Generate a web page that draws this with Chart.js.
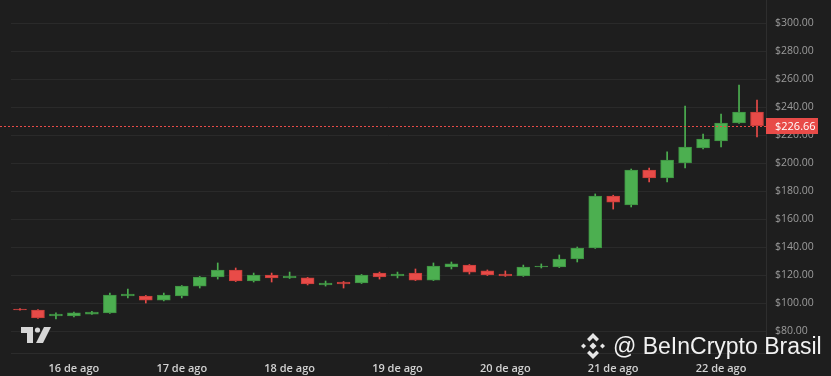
<!DOCTYPE html>
<html>
<head>
    <title>Candles 4h</title>
    <script src="https://cdnjs.cloudflare.com/ajax/libs/Chart.js/4.4.0/chart.umd.min.js"></script>
    <style>
        body {
            margin: 0;
            background: #1e1e1e;
        }
        .chart-container {
            width: 831px;
            height: 376px;
            position: relative;
            overflow: hidden;
        }
        .tv-logo {
            position: absolute;
            left: 21px;
            top: 327px;
        }
        .watermark {
            position: absolute;
            left: 580px;
            top: 332px;
            display: flex;
            align-items: center;
            font-family: "Liberation Sans", Arial, sans-serif;
            font-size: 23px;
            color: #f2f2f2;
            white-space: nowrap;
        }
        .watermark svg {
            margin-right: 7px;
        }
    </style>
</head>
<body>
    <div class="chart-container">
        <canvas id="myChart"></canvas>
        <svg class="tv-logo" width="30" height="17" viewBox="0 0 30 17">
            <path d="M0 0 H12 V16 H6 V6 H0 Z" fill="#d6d6d6"/>
            <circle cx="16.5" cy="3" r="2.6" fill="#d6d6d6"/>
            <path d="M23 0 H30 L22 16 H15 Z" fill="#d6d6d6"/>
        </svg>
        <div class="watermark">
            <svg width="26" height="28" viewBox="0 0 26 28">
                <g fill="#e6e6e6">
                    <path d="M13 1 L19 7 L16.5 9.5 L13 6 L9.5 9.5 L7 7 Z"/>
                    <path d="M13 27 L19 21 L16.5 18.5 L13 22 L9.5 18.5 L7 21 Z"/>
                    <path d="M13 10.5 L16.5 14 L13 17.5 L9.5 14 Z"/>
                    <path d="M3.5 11.5 L6 14 L3.5 16.5 L1 14 Z"/>
                    <path d="M22.5 11.5 L25 14 L22.5 16.5 L20 14 Z"/>
                </g>
            </svg>
            <span>@ BeInCrypto Brasil</span>
        </div>
    </div>

    <script>
        // 4h candles, 15 ago 12:00 .. 22 ago 08:00
        const times = [
            '15/08 12h', '15/08 16h', '15/08 20h',
            '16/08 00h', '16/08 04h', '16/08 08h', '16/08 12h', '16/08 16h', '16/08 20h',
            '17/08 00h', '17/08 04h', '17/08 08h', '17/08 12h', '17/08 16h', '17/08 20h',
            '18/08 00h', '18/08 04h', '18/08 08h', '18/08 12h', '18/08 16h', '18/08 20h',
            '19/08 00h', '19/08 04h', '19/08 08h', '19/08 12h', '19/08 16h', '19/08 20h',
            '20/08 00h', '20/08 04h', '20/08 08h', '20/08 12h', '20/08 16h', '20/08 20h',
            '21/08 00h', '21/08 04h', '21/08 08h', '21/08 12h', '21/08 16h', '21/08 20h',
            '22/08 00h', '22/08 04h', '22/08 08h'
        ];
        const dayLabels = {
            '16/08 00h': '16 de ago', '17/08 00h': '17 de ago', '18/08 00h': '18 de ago',
            '19/08 00h': '19 de ago', '20/08 00h': '20 de ago', '21/08 00h': '21 de ago',
            '22/08 00h': '22 de ago'
        };

        const opens  = [95.7, 95.0, 90.7, 90.7, 92.1, 92.9, 105.0, 105.0, 102.1, 105.0, 112.1, 118.6,
                        123.6, 115.7, 120.0, 117.9, 117.9, 112.9, 115.0, 114.3, 121.4, 119.3, 121.4, 116.4,
                        125.7, 127.1, 122.9, 120.7, 119.3, 125.7, 125.7, 131.4, 139.3, 176.4, 170.0, 195.0,
                        189.3, 200.0, 210.7, 215.7, 228.6, 236.4];
        const highs  = [96.0, 95.3, 92.9, 93.6, 94.0, 107.1, 110.0, 105.4, 107.1, 112.5, 119.0, 128.6,
                        125.0, 121.4, 121.4, 122.1, 118.3, 115.7, 115.4, 120.4, 122.1, 122.1, 124.3, 128.6,
                        129.3, 127.5, 123.6, 122.9, 127.1, 127.9, 134.3, 140.0, 177.9, 177.0, 195.7, 196.4,
                        207.9, 240.7, 220.7, 235.0, 255.7, 245.0];
        const lows   = [94.8, 89.0, 88.6, 90.0, 91.8, 92.5, 103.6, 100.0, 101.5, 103.6, 110.7, 117.1,
                        115.3, 115.0, 115.0, 117.5, 112.9, 112.1, 110.7, 113.9, 117.1, 117.9, 116.0, 116.0,
                        124.3, 120.7, 119.6, 119.0, 119.0, 125.0, 125.3, 129.3, 139.0, 167.1, 168.6, 186.4,
                        186.4, 196.4, 210.0, 211.4, 228.2, 218.6];
        const closes = [95.0, 89.3, 92.1, 92.9, 93.6, 105.7, 106.4, 102.1, 105.7, 112.1, 118.6, 123.6,
                        115.7, 120.0, 117.9, 119.3, 113.6, 114.3, 113.6, 120.0, 118.6, 120.7, 116.4, 126.4,
                        127.9, 122.1, 120.0, 119.3, 125.7, 126.4, 131.4, 139.3, 176.4, 172.1, 195.0, 189.3,
                        202.1, 211.4, 217.1, 228.6, 236.4, 226.66];

        const yTicks = [80, 100, 120, 140, 160, 180, 200, 220, 240, 260, 280, 300];
        const lastPrice = 226.66;

        const GREEN = '#4caf50';
        const GREEN_EDGE = '#3e9142';
        const RED = '#e84b48';
        const RED_EDGE = '#c63c39';

        const isUp = closes.map((c, i) => c >= opens[i]);
        const fillColors = isUp.map(u => u ? GREEN : RED);
        const edgeColors = isUp.map(u => u ? GREEN_EDGE : RED_EDGE);

        // dashed last price line + price tag on the axis
        const lastPricePlugin = {
            id: 'lastPrice',
            afterDraw(chart) {
                const ctx = chart.ctx;
                const y = Math.round(chart.scales.y.getPixelForValue(lastPrice)) + 0.5;
                const area = chart.chartArea;
                ctx.save();
                ctx.strokeStyle = RED;
                ctx.lineWidth = 1;
                ctx.setLineDash([2, 2]);
                ctx.beginPath();
                ctx.moveTo(0, y);
                ctx.lineTo(area.right, y);
                ctx.stroke();
                ctx.setLineDash([]);
                ctx.fillStyle = RED;
                ctx.fillRect(area.right, y - 8.5, 52, 16);
                ctx.fillStyle = '#ffffff';
                ctx.font = '11px "Open Sans", sans-serif';
                ctx.textBaseline = 'middle';
                ctx.fillText('$' + lastPrice.toFixed(2), area.right + 9, y);
                ctx.restore();
            }
        };

        const ctx = document.getElementById('myChart');

        new Chart(ctx, {
            type: 'bar',
            data: {
                labels: times,
                datasets: [{
                    label: 'Wicks',
                    data: lows.map((l, i) => [l, highs[i]]),
                    backgroundColor: fillColors,
                    barThickness: 1,
                    grouped: false,
                    order: 2
                }, {
                    label: 'Bodies',
                    data: opens.map((o, i) => [o, closes[i]]),
                    backgroundColor: fillColors,
                    borderColor: edgeColors,
                    borderWidth: 1,
                    borderSkipped: false,
                    barThickness: 13,
                    grouped: false,
                    order: 1
                }]
            },
            options: {
                responsive: true,
                maintainAspectRatio: false,
                animation: false,
                layout: {
                    padding: { left: 11, top: 0, right: 0, bottom: 0 }
                },
                plugins: {
                    legend: { display: false },
                    tooltip: { enabled: false }
                },
                scales: {
                    x: {
                        afterFit(axis) {
                            axis.height = 23;
                            axis.paddingLeft = 0;
                            axis.paddingRight = 0;
                        },
                        grid: { display: false },
                        border: { display: true, color: '#2c2c2c' },
                        ticks: {
                            autoSkip: false,
                            maxRotation: 0,
                            padding: 1,
                            color: '#d2d2d2',
                            font: { family: '"Open Sans", sans-serif', size: 11, weight: '600' },
                            callback: function(val) {
                                const t = this.getLabelForValue(val);
                                return dayLabels[t] || null;
                            }
                        }
                    },
                    y: {
                        position: 'right',
                        min: 64.29,
                        max: 316.43,
                        afterFit(axis) {
                            axis.width = 65;
                            axis.paddingTop = 0;
                            axis.paddingBottom = 0;
                        },
                        afterBuildTicks(axis) { axis.ticks = yTicks.map(v => ({ value: v })); },
                        grid: { color: '#2a2a2a', drawTicks: false },
                        border: { display: true, color: '#2e2e2e' },
                        ticks: {
                            padding: 9,
                            color: '#9c9c9c',
                            font: { family: '"Open Sans", sans-serif', size: 10.5 },
                            callback: v => '$' + v.toFixed(2)
                        }
                    }
                }
            },
            plugins: [lastPricePlugin]
        });
    </script>
</body>
</html>
